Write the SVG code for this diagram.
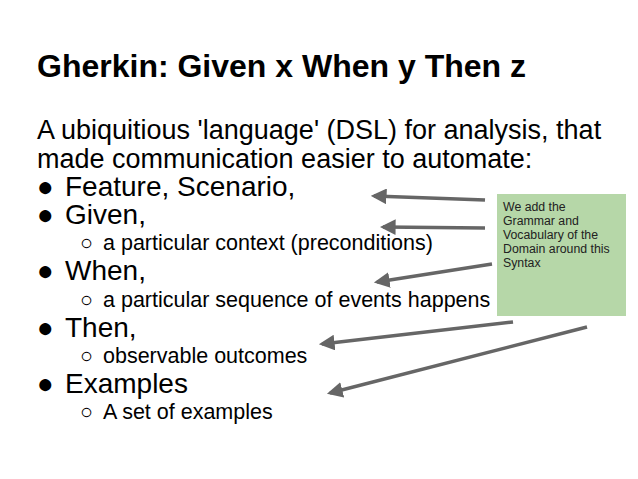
<svg xmlns="http://www.w3.org/2000/svg" width="638" height="479" viewBox="0 0 638 479">
<style>
text{font-family:"Liberation Sans",Arial,sans-serif;fill:#000}
.t{font-size:27px}.b{font-size:28px}.s{font-size:21.5px}.n{font-size:12.3px;fill:#222}
.a{stroke:#666;stroke-width:3.5;fill:none;marker-end:url(#h)}
</style>
<defs><marker id="h" viewBox="0 0 10 10" refX="8" refY="5" markerWidth="4.5" markerHeight="4.5" orient="auto" markerUnits="strokeWidth"><path d="M0,0L10,5L0,10z" fill="#666"/></marker></defs>
<rect width="638" height="479" fill="#fff"/>
<g id="title"><text x="37" y="77" style="font-size:32px;font-weight:bold">Gherkin: Given x When y Then z</text></g>
<g id="body">
<text class="t" x="37" y="139">A ubiquitious 'language' (DSL) for analysis, that</text>
<text class="t" x="37" y="168">made communication easier to automate:</text>
<text class="b" x="37" y="196">●<tspan x="65">Feature, Scenario,</tspan></text>
<text class="b" x="37" y="224">●<tspan x="65">Given,</tspan></text>
<text class="s" x="80" y="250">○<tspan x="103">a particular context (preconditions)</tspan></text>
<text class="b" x="37" y="280">●<tspan x="65">When,</tspan></text>
<text class="s" x="80" y="307">○<tspan x="103">a particular sequence of events happens</tspan></text>
<text class="b" x="37" y="337">●<tspan x="65">Then,</tspan></text>
<text class="s" x="80" y="363">○<tspan x="103">observable outcomes</tspan></text>
<text class="b" x="37" y="393">●<tspan x="65">Examples</tspan></text>
<text class="s" x="80" y="419">○<tspan x="103">A set of examples</tspan></text>
</g>
<g id="note">
<rect x="497" y="194" width="129" height="122" fill="#b6d7a8"/>
<text class="n" x="503" y="211">We add the</text>
<text class="n" x="503" y="225">Grammar and</text>
<text class="n" x="503" y="239">Vocabulary of the</text>
<text class="n" x="503" y="253">Domain around this</text>
<text class="n" x="503" y="267">Syntax</text>
</g>
<g id="connectors">
<line class="a" x1="485" y1="200" x2="374" y2="196"/>
<line class="a" x1="485" y1="228" x2="383" y2="227"/>
<line class="a" x1="492" y1="264" x2="377" y2="282"/>
<line class="a" x1="513" y1="322" x2="322" y2="344"/>
<line class="a" x1="587" y1="327" x2="330" y2="393"/>
</g>
</svg>
